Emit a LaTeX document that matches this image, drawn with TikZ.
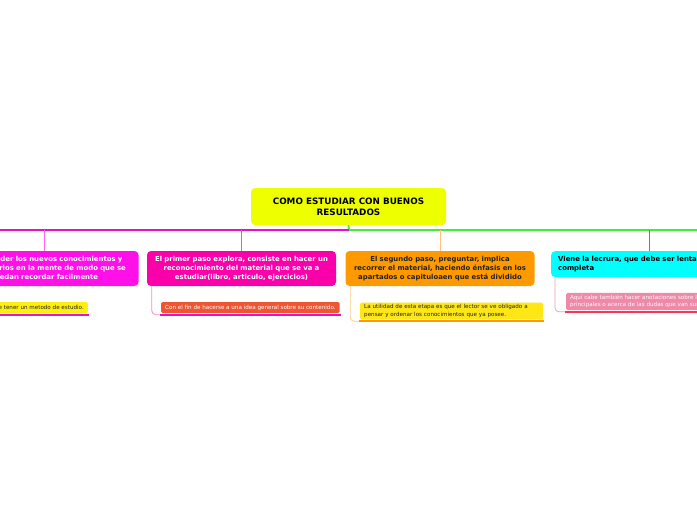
\documentclass[tikz,border=0pt]{standalone}
\usepackage{fontspec}
\setmainfont{DejaVu Sans}
\usetikzlibrary{calc}
\definecolor{cyel}{HTML}{EEFF00}
\definecolor{barmag}{HTML}{E412C2}
\definecolor{bargreen}{HTML}{44EE33}
\definecolor{fone}{HTML}{FF10E8}
\definecolor{ftwo}{HTML}{FA00AA}
\definecolor{fthree}{HTML}{FF9900}
\definecolor{ffour}{HTML}{00FFFF}
\definecolor{done}{HTML}{FF66EE}
\definecolor{dtwo}{HTML}{EE55BB}
\definecolor{dthree}{HTML}{FFC080}
\definecolor{dfour}{HTML}{E84858}
\definecolor{sone}{HTML}{FFEE11}
\definecolor{stwo}{HTML}{EE5533}
\definecolor{sthree}{HTML}{FFE617}
\definecolor{sfour}{HTML}{F088A8}
\definecolor{uone}{HTML}{E810D8}
\definecolor{utwo}{HTML}{E810C0}
\definecolor{uthree}{HTML}{FF9900}
\definecolor{ufour}{HTML}{FF3355}
\definecolor{cone}{HTML}{FF99EE}
\definecolor{ctwo}{HTML}{FF88CC}
\definecolor{cthree}{HTML}{FFCC88}
\definecolor{cfour}{HTML}{F0A0B0}
\definecolor{darktext}{HTML}{222222}
\tikzset{
  mainbox/.style={fill=cyel, rounded corners=4pt, minimum width=195pt, minimum height=37pt,
    inner sep=0pt, align=center, text=black, font=\fontsize{8.8}{11}\selectfont\bfseries},
  topicbox/.style={rounded corners=4pt, minimum width=189pt, minimum height=35pt,
    inner sep=0pt, text width=183pt, align=center, font=\fontsize{6.9}{9}\selectfont\bfseries},
  subbox/.style={rounded corners=1.5pt, inner xsep=4pt, inner ysep=2pt, align=left,
    font=\fontsize{5.6}{7.5}\selectfont, minimum height=11pt},
  barline/.style={line width=1.8pt},
  dropline/.style={line width=0.9pt},
  underl/.style={line width=2pt, shorten <=-1pt, shorten >=-1pt},
  subcon/.style={line width=0.8pt, rounded corners=4pt},
}
\begin{document}
\begin{tikzpicture}[x=1pt,y=-1pt]
\useasboundingbox (0,0) rectangle (697,520);
\clip (0,0) rectangle (697,520);

% central node
\node[mainbox] (c) at (348.5,206.5) {COMO ESTUDIAR CON BUENOS\\RESULTADOS};

% topic nodes
\node[topicbox, fill=fone, text=white] (n1) at (44,268.5)
  {Comprender los nuevos conocimientos y\\almacenarlos en la mente de modo que se\\puedan recordar facilmente};
\node[topicbox, fill=ftwo, text=white] (n2) at (241.5,268.5)
  {El primer paso explora, consiste en hacer un\\reconocimiento del material que se va a\\estudiar(libro, articulo, ejercicios)};
\node[topicbox, fill=fthree, text=darktext] (n3) at (440,268.5)
  {El segundo paso, preguntar, implica\\recorrer el material, haciendo énfasis en los\\apartados o capituloaen que está dividido};
\node[topicbox, fill=ffour, text=black, align=left, minimum height=26pt, text width=183pt,
  inner xsep=7pt, anchor=north west] (n4) at (551,251)
  {Viene la lecrura, que debe ser lenta y\\completa};

% junction and bar ends
\coordinate (j) at (349,230);
\coordinate (lend) at (-5,230);
\coordinate (rend) at (702,230);
\draw[barline, bargreen] (c.south) -- (j);
\draw[barline, barmag] (j) -- (lend);
\draw[barline, bargreen] (j) -- (rend);

% drops
\draw[dropline, done] (j -| n1.north) -- (n1.north);
\draw[dropline, dtwo] (j -| n2.north) -- (n2.north);
\draw[dropline, dthree] (j -| n3.north) -- (n3.north);
\draw[dropline, dfour] (j -| n4.north) -- (n4.north);

% sub nodes
\node[subbox, fill=sone, text=darktext, anchor=east] (s1) at (88,307.5)
  {Es importante tener un metodo de estudio.};
\node[subbox, fill=stwo, text=white, anchor=west] (s2) at (161,307.5)
  {Con el fin de hacerse a una idea general sobre su contenido.};
\node[subbox, fill=sthree, text=darktext, anchor=west, text width=175pt] (s3) at (360,311)
  {La utilidad de esta etapa es que el lector se ve obligado a\\pensar y ordenar los conocimientos que ya posee.};
\node[subbox, fill=sfour, text=white, anchor=west] (s4) at (566,301.5)
  {Aquí cabe también hacer anotaciones sobre la(s) ideas\\principales o acerca de las dudas que van surgiendo.};

% sub connectors
\draw[subcon, cone] ([xshift=5pt]n1.south west) |- ([yshift=-1.5pt]s1.south west);
\draw[subcon, ctwo] ([xshift=5pt]n2.south west) |- ([yshift=-1.5pt]s2.south west);
\draw[subcon, cthree] ([xshift=5pt]n3.south west) |- ([yshift=-1.5pt]s3.south west);
\draw[subcon, cfour] ([xshift=4pt]n4.south west) |- ([yshift=-1.5pt]s4.south west);

% underlines
\draw[underl, uone] ([yshift=-1.5pt]s1.south west) -- ([yshift=-1.5pt]s1.south east);
\draw[underl, utwo] ([yshift=-1.5pt]s2.south west) -- ([yshift=-1.5pt]s2.south east);
\draw[underl, uthree] ([yshift=-1.5pt]s3.south west) -- ([yshift=-1.5pt]s3.south east);
\draw[underl, ufour] ([yshift=-1.5pt]s4.south west) -- ([yshift=-1.5pt]s4.south east);
\end{tikzpicture}
\end{document}
